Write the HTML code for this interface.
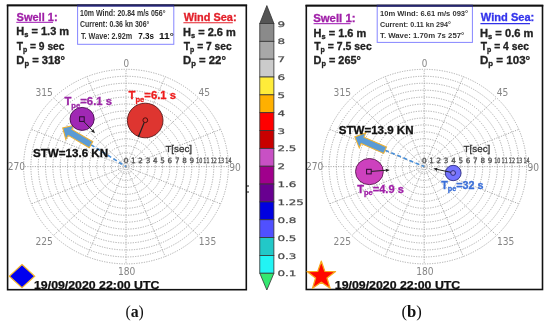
<!DOCTYPE html>
<html><head><meta charset="utf-8"><style>html,body{margin:0;padding:0;background:#fff;width:550px;height:324px;overflow:hidden}svg{display:block;filter:blur(0.3px)}</style></head><body>
<svg width="550" height="324" viewBox="0 0 550 324">
<style>
.g{fill:none;stroke:#a2a2a2;stroke-width:0.9;stroke-dasharray:1.2 1.3}
.al{font-family:"DejaVu Sans",sans-serif;font-size:9.6px;fill:#858585}
.tl{font-family:"DejaVu Sans",sans-serif;font-size:7.2px;fill:#505050;stroke:#505050;stroke-width:0.3px}
.ts{font-family:"Liberation Sans",sans-serif;font-size:9.8px;fill:#333;stroke:#333;stroke-width:0.3px}
.cl{font-family:"DejaVu Sans",sans-serif;font-size:7.6px;fill:#4a4a4a;stroke:#4a4a4a;stroke-width:0.25px}
.hd,.hv{font-family:"Liberation Sans",sans-serif;font-size:10.6px;font-weight:bold;stroke-width:0.3px}
.sb{font-size:7.2px}
.ib{font-family:"Liberation Sans",sans-serif;font-size:8.4px;font-weight:bold}
.ibr{font-size:7.8px}
.bt{font-family:"Liberation Sans",sans-serif;font-size:10.8px;font-weight:bold;stroke-width:0.25px}
.cap{font-family:"Liberation Serif",serif;font-size:16.3px}
</style>
<rect width="550" height="324" fill="#fff"/>
<ellipse cx="126" cy="166.6" rx="7.31" ry="6.95" class="g"/>
<ellipse cx="126" cy="166.6" rx="14.63" ry="13.90" class="g"/>
<ellipse cx="126" cy="166.6" rx="21.94" ry="20.85" class="g"/>
<ellipse cx="126" cy="166.6" rx="29.26" ry="27.80" class="g"/>
<ellipse cx="126" cy="166.6" rx="36.57" ry="34.75" class="g"/>
<ellipse cx="126" cy="166.6" rx="43.89" ry="41.70" class="g"/>
<ellipse cx="126" cy="166.6" rx="51.20" ry="48.65" class="g"/>
<ellipse cx="126" cy="166.6" rx="58.51" ry="55.60" class="g"/>
<ellipse cx="126" cy="166.6" rx="65.83" ry="62.55" class="g"/>
<ellipse cx="126" cy="166.6" rx="73.14" ry="69.50" class="g"/>
<ellipse cx="126" cy="166.6" rx="80.46" ry="76.45" class="g"/>
<ellipse cx="126" cy="166.6" rx="87.77" ry="83.40" class="g"/>
<ellipse cx="126" cy="166.6" rx="95.09" ry="90.35" class="g"/>
<ellipse cx="126" cy="166.6" rx="102.40" ry="97.30" class="g"/>
<line x1="126" y1="166.6" x2="126.00" y2="69.30" class="g"/>
<line x1="126" y1="166.6" x2="165.19" y2="76.71" class="g"/>
<line x1="126" y1="166.6" x2="198.41" y2="97.80" class="g"/>
<line x1="126" y1="166.6" x2="220.61" y2="129.36" class="g"/>
<line x1="126" y1="166.6" x2="228.40" y2="166.60" class="g"/>
<line x1="126" y1="166.6" x2="220.61" y2="203.84" class="g"/>
<line x1="126" y1="166.6" x2="198.41" y2="235.40" class="g"/>
<line x1="126" y1="166.6" x2="165.19" y2="256.49" class="g"/>
<line x1="126" y1="166.6" x2="126.00" y2="263.90" class="g"/>
<line x1="126" y1="166.6" x2="86.81" y2="256.49" class="g"/>
<line x1="126" y1="166.6" x2="53.59" y2="235.40" class="g"/>
<line x1="126" y1="166.6" x2="31.39" y2="203.84" class="g"/>
<line x1="126" y1="166.6" x2="23.60" y2="166.60" class="g"/>
<line x1="126" y1="166.6" x2="31.39" y2="129.36" class="g"/>
<line x1="126" y1="166.6" x2="53.59" y2="97.80" class="g"/>
<line x1="126" y1="166.6" x2="86.81" y2="76.71" class="g"/>
<text x="123.5" y="66.5" class="al" textLength="5.6" lengthAdjust="spacingAndGlyphs">0</text>
<text x="198.5" y="95.8" class="al" textLength="11.6" lengthAdjust="spacingAndGlyphs">45</text>
<text x="229.2" y="170.6" class="al" textLength="11.6" lengthAdjust="spacingAndGlyphs">90</text>
<text x="198.8" y="245.1" class="al" textLength="17.4" lengthAdjust="spacingAndGlyphs">135</text>
<text x="118.0" y="274.8" class="al" textLength="17.4" lengthAdjust="spacingAndGlyphs">180</text>
<text x="35.4" y="245.4" class="al" textLength="17.4" lengthAdjust="spacingAndGlyphs">225</text>
<text x="7.7" y="170.1" class="al" textLength="17.4" lengthAdjust="spacingAndGlyphs">270</text>
<text x="35.4" y="96.1" class="al" textLength="17.4" lengthAdjust="spacingAndGlyphs">315</text>
<text x="126.00" y="163.1" class="tl" text-anchor="middle">0</text>
<text x="133.31" y="163.1" class="tl" text-anchor="middle">1</text>
<text x="140.63" y="163.1" class="tl" text-anchor="middle">2</text>
<text x="147.94" y="163.1" class="tl" text-anchor="middle">3</text>
<text x="155.26" y="163.1" class="tl" text-anchor="middle">4</text>
<text x="162.57" y="163.1" class="tl" text-anchor="middle">5</text>
<text x="169.89" y="163.1" class="tl" text-anchor="middle">6</text>
<text x="177.20" y="163.1" class="tl" text-anchor="middle">7</text>
<text x="184.51" y="163.1" class="tl" text-anchor="middle">8</text>
<text x="191.83" y="163.1" class="tl" text-anchor="middle">9</text>
<text x="196.04" y="163.1" class="tl" textLength="6.2" lengthAdjust="spacingAndGlyphs">10</text>
<text x="203.36" y="163.1" class="tl" textLength="6.2" lengthAdjust="spacingAndGlyphs">11</text>
<text x="210.67" y="163.1" class="tl" textLength="6.2" lengthAdjust="spacingAndGlyphs">12</text>
<text x="217.99" y="163.1" class="tl" textLength="6.2" lengthAdjust="spacingAndGlyphs">13</text>
<text x="225.30" y="163.1" class="tl" textLength="6.2" lengthAdjust="spacingAndGlyphs">14</text>
<text x="165.4" y="152.4" class="ts">T[sec]</text>
<line x1="91" y1="144.8" x2="126" y2="166.6" stroke="#4a90d9" stroke-width="1.6" stroke-dasharray="4 2.6"/>
<polygon points="92.79,141.79 71.80,129.33 74.22,125.24 62.70,128.00 65.80,139.43 68.22,135.35 89.21,147.81" fill="#5b9bd5" stroke="#f0b232" stroke-width="1.05" stroke-linejoin="miter"/>
<ellipse cx="82.1" cy="118.9" rx="12.1" ry="11.5" fill="#a028b4" stroke="#4a1050" stroke-width="0.9"/>
<rect x="79.6" y="116.8" width="4.6" height="4.6" fill="none" stroke="#2a0a30" stroke-width="1"/>
<line x1="83.6" y1="121.3" x2="92.25" y2="130.40" stroke="#222" stroke-width="1"/><polygon points="95.00,133.30 91.09,131.50 93.41,129.30" fill="#222"/>
<ellipse cx="145.2" cy="120.5" rx="17.8" ry="17.3" fill="#de3530" stroke="#5a1a1a" stroke-width="0.9"/>
<circle cx="145.3" cy="120.2" r="2.4" fill="none" stroke="#4a0e0e" stroke-width="1"/>
<line x1="144.2" y1="122.5" x2="139.04" y2="135.28" stroke="#222" stroke-width="1.2"/><polygon points="138.10,137.60 137.88,134.81 140.20,135.75" fill="#222"/>
<text x="64.50" y="105.2" class="hd" fill="#9b27a6" stroke="#9b27a6" textLength="47.42" lengthAdjust="spacingAndGlyphs">T<tspan class="sb" dy="2.3">pe</tspan><tspan dy="-2.3">=6.1 s</tspan></text>
<text x="128.60" y="99.4" class="hd" fill="#ee1c1c" stroke="#ee1c1c" textLength="47.32" lengthAdjust="spacingAndGlyphs">T<tspan class="sb" dy="2.3">pe</tspan><tspan dy="-2.3">=6.1 s</tspan></text>
<text x="33.00" y="157.3" class="hd" fill="#111" stroke="#111" textLength="75.09" lengthAdjust="spacingAndGlyphs">STW=13.6 KN</text>
<rect x="7.6" y="5.4" width="238.70" height="284.30" fill="none" stroke="#111" stroke-width="1.6"/>
<path d="M246.5,186 h2.5 M246.5,192 h2.5" stroke="#111" stroke-width="1"/>
<rect x="77.6" y="6.2" width="96.2" height="38.1" fill="#fff" stroke="#8585ff" stroke-width="1"/>
<text x="80.00" y="16.0" class="ib" fill="#333" textLength="85.47" lengthAdjust="spacingAndGlyphs">10m Wind: 20.84 m/s 056°</text>
<text x="80.00" y="27.0" class="ib" fill="#333" textLength="69.42" lengthAdjust="spacingAndGlyphs">Current: 0.36 kn 306°</text>
<text x="81.00" y="38.8" class="ib" fill="#333" textLength="51.08" lengthAdjust="spacingAndGlyphs">T. Wave: 2.92m</text>
<text x="138.20" y="38.8" class="ib bb" fill="#111" textLength="15.71" lengthAdjust="spacingAndGlyphs">7.3s</text>
<text x="159.00" y="38.8" class="ib bb" fill="#111" textLength="14.70" lengthAdjust="spacingAndGlyphs">11°</text>
<line x1="6.8" y1="5.4" x2="247.10000000000002" y2="5.4" stroke="#111" stroke-width="1.6"/><line x1="77.1" y1="5.4" x2="174.2" y2="5.4" stroke="#24246e" stroke-width="1.6"/>
<text x="16.60" y="20.7" class="hd" fill="#a020a8" stroke="#a020a8" textLength="40.95" lengthAdjust="spacingAndGlyphs">Swell 1:</text>
<text x="16.30" y="35.1" class="hv" fill="#222" stroke="#222" textLength="52.83" lengthAdjust="spacingAndGlyphs">H<tspan class="sb" dy="2.3">s</tspan><tspan dy="-2.3"> = 1.3 m</tspan></text>
<text x="16.70" y="49.6" class="hv" fill="#222" stroke="#222" textLength="47.77" lengthAdjust="spacingAndGlyphs">T<tspan class="sb" dy="2.3">p</tspan><tspan dy="-2.3"> = 9 sec</tspan></text>
<text x="16.30" y="63.9" class="hv" fill="#222" stroke="#222" textLength="48.75" lengthAdjust="spacingAndGlyphs">D<tspan class="sb" dy="2.3">p</tspan><tspan dy="-2.3"> = 318°</tspan></text>
<text x="183.80" y="21.2" class="hd" fill="#e3202a" stroke="#e3202a" textLength="52.82" lengthAdjust="spacingAndGlyphs">Wind Sea:</text>
<text x="183.00" y="35.9" class="hv" fill="#222" stroke="#222" textLength="52.83" lengthAdjust="spacingAndGlyphs">H<tspan class="sb" dy="2.3">s</tspan><tspan dy="-2.3"> = 2.6 m</tspan></text>
<text x="183.80" y="49.6" class="hv" fill="#222" stroke="#222" textLength="47.97" lengthAdjust="spacingAndGlyphs">T<tspan class="sb" dy="2.3">p</tspan><tspan dy="-2.3"> = 7 sec</tspan></text>
<text x="183.00" y="63.8" class="hv" fill="#222" stroke="#222" textLength="42.94" lengthAdjust="spacingAndGlyphs">D<tspan class="sb" dy="2.3">p</tspan><tspan dy="-2.3"> = 22°</tspan></text>
<line x1="16.3" y1="22.4" x2="53" y2="22.4" stroke="#b040c0" stroke-width="1.1"/>
<line x1="183.4" y1="22.8" x2="232.8" y2="22.8" stroke="#e3202a" stroke-width="1.1"/>
<polygon points="22,264.5 34.7,276.2 22,287.8 9.3,276.2" fill="#0000f0" stroke="#f5b82e" stroke-width="1.2"/>
<text x="34.00" y="288.6" class="bt" fill="#111" stroke="#111" textLength="125.34" lengthAdjust="spacingAndGlyphs">19/09/2020 22:00 UTC</text>
<text x="125.40" y="316.7" class="cap" fill="#111" textLength="18.40" lengthAdjust="spacingAndGlyphs">(<tspan font-weight="bold">a</tspan>)</text>
<polygon points="259.8,23.5 266.85,5.6 273.9,23.5" fill="#555" stroke="#333" stroke-width="0.8"/>
<rect x="259.8" y="23.50" width="14.10" height="17.84" fill="#8a8a8a" stroke="#333" stroke-width="0.8"/>
<rect x="259.8" y="41.34" width="14.10" height="17.84" fill="#a8a8a8" stroke="#333" stroke-width="0.8"/>
<rect x="259.8" y="59.18" width="14.10" height="17.84" fill="#cbcbcb" stroke="#333" stroke-width="0.8"/>
<rect x="259.8" y="77.02" width="14.10" height="17.84" fill="#ffec3a" stroke="#333" stroke-width="0.8"/>
<rect x="259.8" y="94.86" width="14.10" height="17.84" fill="#ffb000" stroke="#333" stroke-width="0.8"/>
<rect x="259.8" y="112.70" width="14.10" height="17.84" fill="#ff0000" stroke="#333" stroke-width="0.8"/>
<rect x="259.8" y="130.54" width="14.10" height="17.84" fill="#c80000" stroke="#333" stroke-width="0.8"/>
<rect x="259.8" y="148.38" width="14.10" height="17.84" fill="#c850c4" stroke="#333" stroke-width="0.8"/>
<rect x="259.8" y="166.22" width="14.10" height="17.84" fill="#a0008c" stroke="#333" stroke-width="0.8"/>
<rect x="259.8" y="184.06" width="14.10" height="17.84" fill="#680090" stroke="#333" stroke-width="0.8"/>
<rect x="259.8" y="201.90" width="14.10" height="17.84" fill="#0000e0" stroke="#333" stroke-width="0.8"/>
<rect x="259.8" y="219.74" width="14.10" height="17.84" fill="#5050ff" stroke="#333" stroke-width="0.8"/>
<rect x="259.8" y="237.58" width="14.10" height="17.84" fill="#22c8c8" stroke="#333" stroke-width="0.8"/>
<rect x="259.8" y="255.42" width="14.10" height="17.84" fill="#22f4f4" stroke="#333" stroke-width="0.8"/>
<polygon points="259.8,273.26 266.85,290 273.9,273.26" fill="#33e870" stroke="#333" stroke-width="0.8"/>
<text x="277.4" y="26.60" class="cl" textLength="7.6" lengthAdjust="spacingAndGlyphs">9</text>
<text x="277.4" y="44.44" class="cl" textLength="7.6" lengthAdjust="spacingAndGlyphs">8</text>
<text x="277.4" y="62.28" class="cl" textLength="7.6" lengthAdjust="spacingAndGlyphs">7</text>
<text x="277.4" y="80.12" class="cl" textLength="7.6" lengthAdjust="spacingAndGlyphs">6</text>
<text x="277.4" y="97.96" class="cl" textLength="7.6" lengthAdjust="spacingAndGlyphs">5</text>
<text x="277.4" y="115.80" class="cl" textLength="7.6" lengthAdjust="spacingAndGlyphs">4</text>
<text x="277.4" y="133.64" class="cl" textLength="7.6" lengthAdjust="spacingAndGlyphs">3</text>
<text x="277.4" y="151.48" class="cl" textLength="19.0" lengthAdjust="spacingAndGlyphs">2.5</text>
<text x="277.4" y="169.32" class="cl" textLength="7.6" lengthAdjust="spacingAndGlyphs">2</text>
<text x="277.4" y="187.16" class="cl" textLength="19.0" lengthAdjust="spacingAndGlyphs">1.6</text>
<text x="277.4" y="205.00" class="cl" textLength="26.5" lengthAdjust="spacingAndGlyphs">1.25</text>
<text x="277.4" y="222.84" class="cl" textLength="19.0" lengthAdjust="spacingAndGlyphs">0.8</text>
<text x="277.4" y="240.68" class="cl" textLength="19.0" lengthAdjust="spacingAndGlyphs">0.5</text>
<text x="277.4" y="258.52" class="cl" textLength="19.0" lengthAdjust="spacingAndGlyphs">0.3</text>
<text x="277.4" y="276.36" class="cl" textLength="19.0" lengthAdjust="spacingAndGlyphs">0.1</text>
<ellipse cx="424.2" cy="166.6" rx="7.31" ry="6.95" class="g"/>
<ellipse cx="424.2" cy="166.6" rx="14.63" ry="13.90" class="g"/>
<ellipse cx="424.2" cy="166.6" rx="21.94" ry="20.85" class="g"/>
<ellipse cx="424.2" cy="166.6" rx="29.26" ry="27.80" class="g"/>
<ellipse cx="424.2" cy="166.6" rx="36.57" ry="34.75" class="g"/>
<ellipse cx="424.2" cy="166.6" rx="43.89" ry="41.70" class="g"/>
<ellipse cx="424.2" cy="166.6" rx="51.20" ry="48.65" class="g"/>
<ellipse cx="424.2" cy="166.6" rx="58.51" ry="55.60" class="g"/>
<ellipse cx="424.2" cy="166.6" rx="65.83" ry="62.55" class="g"/>
<ellipse cx="424.2" cy="166.6" rx="73.14" ry="69.50" class="g"/>
<ellipse cx="424.2" cy="166.6" rx="80.46" ry="76.45" class="g"/>
<ellipse cx="424.2" cy="166.6" rx="87.77" ry="83.40" class="g"/>
<ellipse cx="424.2" cy="166.6" rx="95.09" ry="90.35" class="g"/>
<ellipse cx="424.2" cy="166.6" rx="102.40" ry="97.30" class="g"/>
<line x1="424.2" y1="166.6" x2="424.20" y2="69.30" class="g"/>
<line x1="424.2" y1="166.6" x2="463.39" y2="76.71" class="g"/>
<line x1="424.2" y1="166.6" x2="496.61" y2="97.80" class="g"/>
<line x1="424.2" y1="166.6" x2="518.81" y2="129.36" class="g"/>
<line x1="424.2" y1="166.6" x2="526.60" y2="166.60" class="g"/>
<line x1="424.2" y1="166.6" x2="518.81" y2="203.84" class="g"/>
<line x1="424.2" y1="166.6" x2="496.61" y2="235.40" class="g"/>
<line x1="424.2" y1="166.6" x2="463.39" y2="256.49" class="g"/>
<line x1="424.2" y1="166.6" x2="424.20" y2="263.90" class="g"/>
<line x1="424.2" y1="166.6" x2="385.01" y2="256.49" class="g"/>
<line x1="424.2" y1="166.6" x2="351.79" y2="235.40" class="g"/>
<line x1="424.2" y1="166.6" x2="329.59" y2="203.84" class="g"/>
<line x1="424.2" y1="166.6" x2="321.80" y2="166.60" class="g"/>
<line x1="424.2" y1="166.6" x2="329.59" y2="129.36" class="g"/>
<line x1="424.2" y1="166.6" x2="351.79" y2="97.80" class="g"/>
<line x1="424.2" y1="166.6" x2="385.01" y2="76.71" class="g"/>
<text x="421.7" y="66.5" class="al" textLength="5.6" lengthAdjust="spacingAndGlyphs">0</text>
<text x="496.7" y="95.8" class="al" textLength="11.6" lengthAdjust="spacingAndGlyphs">45</text>
<text x="527.4" y="170.6" class="al" textLength="11.6" lengthAdjust="spacingAndGlyphs">90</text>
<text x="497.0" y="245.1" class="al" textLength="17.4" lengthAdjust="spacingAndGlyphs">135</text>
<text x="416.2" y="274.8" class="al" textLength="17.4" lengthAdjust="spacingAndGlyphs">180</text>
<text x="333.6" y="245.4" class="al" textLength="17.4" lengthAdjust="spacingAndGlyphs">225</text>
<text x="305.9" y="170.1" class="al" textLength="17.4" lengthAdjust="spacingAndGlyphs">270</text>
<text x="333.6" y="96.1" class="al" textLength="17.4" lengthAdjust="spacingAndGlyphs">315</text>
<text x="424.20" y="163.1" class="tl" text-anchor="middle">0</text>
<text x="431.51" y="163.1" class="tl" text-anchor="middle">1</text>
<text x="438.83" y="163.1" class="tl" text-anchor="middle">2</text>
<text x="446.14" y="163.1" class="tl" text-anchor="middle">3</text>
<text x="453.46" y="163.1" class="tl" text-anchor="middle">4</text>
<text x="460.77" y="163.1" class="tl" text-anchor="middle">5</text>
<text x="468.09" y="163.1" class="tl" text-anchor="middle">6</text>
<text x="475.40" y="163.1" class="tl" text-anchor="middle">7</text>
<text x="482.71" y="163.1" class="tl" text-anchor="middle">8</text>
<text x="490.03" y="163.1" class="tl" text-anchor="middle">9</text>
<text x="494.24" y="163.1" class="tl" textLength="6.2" lengthAdjust="spacingAndGlyphs">10</text>
<text x="501.56" y="163.1" class="tl" textLength="6.2" lengthAdjust="spacingAndGlyphs">11</text>
<text x="508.87" y="163.1" class="tl" textLength="6.2" lengthAdjust="spacingAndGlyphs">12</text>
<text x="516.19" y="163.1" class="tl" textLength="6.2" lengthAdjust="spacingAndGlyphs">13</text>
<text x="523.50" y="163.1" class="tl" textLength="6.2" lengthAdjust="spacingAndGlyphs">14</text>
<text x="463.6" y="152.4" class="ts">T[sec]</text>
<line x1="385.1" y1="150.2" x2="424.2" y2="166.6" stroke="#4a90d9" stroke-width="1.6" stroke-dasharray="4 2.6"/>
<polygon points="386.51,147.00 363.99,137.11 365.90,132.76 354.80,136.90 359.27,147.87 361.18,143.52 383.69,153.40" fill="#5b9bd5" stroke="#f0b232" stroke-width="1.05" stroke-linejoin="miter"/>
<ellipse cx="369.4" cy="171.6" rx="13.9" ry="13.1" fill="#cd41be" stroke="#5a1a50" stroke-width="0.9"/>
<rect x="366.6" y="169.3" width="4.6" height="4.6" fill="none" stroke="#2a0a30" stroke-width="1"/>
<line x1="371.2" y1="171.4" x2="385.81" y2="170.30" stroke="#222" stroke-width="1"/><polygon points="389.80,170.00 385.93,171.90 385.69,168.70" fill="#222"/>
<ellipse cx="453.2" cy="173" rx="7.9" ry="7.7" fill="#7373ff" stroke="#2c2c80" stroke-width="0.9"/>
<circle cx="453.1" cy="173" r="2.4" fill="#9a8ae8" stroke="#2c2c80" stroke-width="1"/>
<line x1="450.8" y1="172.3" x2="437.21" y2="169.43" stroke="#222" stroke-width="1"/><polygon points="433.30,168.60 437.54,167.86 436.88,170.99" fill="#222"/>
<text x="357.20" y="193.0" class="hd" fill="#a020a8" stroke="#a020a8" textLength="46.62" lengthAdjust="spacingAndGlyphs">T<tspan class="sb" dy="2.3">pe</tspan><tspan dy="-2.3">=4.9 s</tspan></text>
<text x="441.20" y="189" class="hd" fill="#3a6fd8" stroke="#3a6fd8" textLength="42.39" lengthAdjust="spacingAndGlyphs">T<tspan class="sb" dy="2.3">pe</tspan><tspan dy="-2.3">=32 s</tspan></text>
<text x="338.80" y="134" class="hd" fill="#111" stroke="#111" textLength="74.69" lengthAdjust="spacingAndGlyphs">STW=13.9 KN</text>
<rect x="306.3" y="5.6" width="236.20" height="283.90" fill="none" stroke="#111" stroke-width="1.6"/>
<rect x="377.2" y="6.2" width="95.2" height="36.2" fill="#fff" stroke="#8585ff" stroke-width="1"/>
<text x="380.00" y="15.8" class="ib ibr" fill="#333" textLength="88.11" lengthAdjust="spacingAndGlyphs">10m Wind: 6.61 m/s 093°</text>
<text x="380.00" y="27.2" class="ib ibr" fill="#333" textLength="70.85" lengthAdjust="spacingAndGlyphs">Current: 0.11 kn 294°</text>
<text x="380.00" y="37.8" class="ib ibr" fill="#333" textLength="84.16" lengthAdjust="spacingAndGlyphs">T. Wave: 1.70m 7s 257°</text>
<line x1="305.5" y1="5.6" x2="543.3" y2="5.6" stroke="#111" stroke-width="1.6"/><line x1="376.7" y1="5.6" x2="472.9" y2="5.6" stroke="#24246e" stroke-width="1.6"/>
<text x="313.20" y="21.8" class="hd" fill="#a020a8" stroke="#a020a8" textLength="42.35" lengthAdjust="spacingAndGlyphs">Swell 1:</text>
<text x="313.60" y="36.5" class="hv" fill="#222" stroke="#222" textLength="52.63" lengthAdjust="spacingAndGlyphs">H<tspan class="sb" dy="2.3">s</tspan><tspan dy="-2.3"> = 1.6 m</tspan></text>
<text x="314.20" y="50.1" class="hv" fill="#222" stroke="#222" textLength="57.50" lengthAdjust="spacingAndGlyphs">T<tspan class="sb" dy="2.3">p</tspan><tspan dy="-2.3"> = 7.5 sec</tspan></text>
<text x="313.60" y="63.6" class="hv" fill="#222" stroke="#222" textLength="47.25" lengthAdjust="spacingAndGlyphs">D<tspan class="sb" dy="2.3">p</tspan><tspan dy="-2.3"> = 265°</tspan></text>
<text x="480.80" y="21.4" class="hd" fill="#3434ec" stroke="#3434ec" textLength="53.52" lengthAdjust="spacingAndGlyphs">Wind Sea:</text>
<text x="480.00" y="36.6" class="hv" fill="#222" stroke="#222" textLength="53.43" lengthAdjust="spacingAndGlyphs">H<tspan class="sb" dy="2.3">s</tspan><tspan dy="-2.3"> = 0.6 m</tspan></text>
<text x="480.80" y="50.1" class="hv" fill="#222" stroke="#222" textLength="48.07" lengthAdjust="spacingAndGlyphs">T<tspan class="sb" dy="2.3">p</tspan><tspan dy="-2.3"> = 4 sec</tspan></text>
<text x="480.00" y="63.6" class="hv" fill="#222" stroke="#222" textLength="50.25" lengthAdjust="spacingAndGlyphs">D<tspan class="sb" dy="2.3">p</tspan><tspan dy="-2.3"> = 103°</tspan></text>
<line x1="313.6" y1="23.6" x2="350.5" y2="23.6" stroke="#b040c0" stroke-width="1.1"/>
<line x1="480.4" y1="23.6" x2="530" y2="23.6" stroke="#3030e8" stroke-width="1.1"/>
<polygon points="321.30,261.20 324.83,271.35 335.57,271.56 327.01,278.05 330.12,288.34 321.30,282.20 312.48,288.34 315.59,278.05 307.03,271.56 317.77,271.35" fill="#ff0800" stroke="#f7a81e" stroke-width="1.3" stroke-linejoin="round"/>
<text x="334.80" y="288.6" class="bt" fill="#111" stroke="#111" textLength="125.44" lengthAdjust="spacingAndGlyphs">19/09/2020 22:00 UTC</text>
<text x="401.40" y="316.7" class="cap" fill="#111" textLength="20.44" lengthAdjust="spacingAndGlyphs">(<tspan font-weight="bold">b</tspan>)</text>
</svg>
</body></html>
